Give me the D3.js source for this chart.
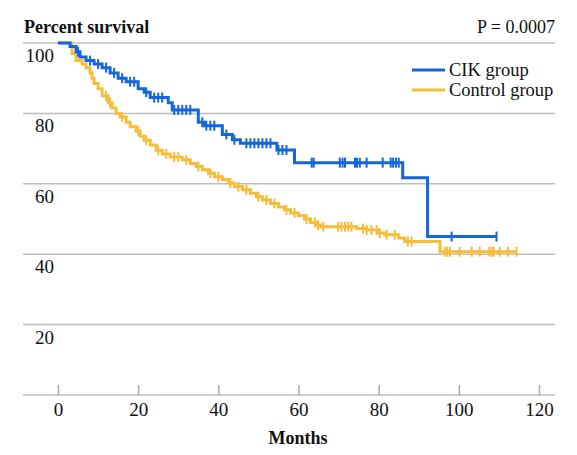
<!DOCTYPE html>
<html>
<head>
<meta charset="utf-8">
<script src="https://cdn.jsdelivr.net/npm/d3@7"></script>
<style>
body{margin:0;background:#fff;}
text{font-family:"Liberation Serif","Times New Roman",serif;fill:#111;}
</style>
</head>
<body>
<svg></svg>
<script>
// step curves: month where the step happens and survival after it
var cikMonths = [0,3,4.5,5.5,7,9,11,13,15,17,20,21.5,23,27.5,28.5,35,36.5,41,43.5,45.5,54.6,59,86,92.2,109.4]
var cikSurv   = [100,99,97.5,96,95,94,93,91.5,90,89,87,86,84.5,83,81,77.5,76.5,74,72.5,71.5,69.6,66,61.7,45,45]

var ctrlMonths = [0,3.5,4.5,6,7,8,8.5,9,10,11,12.5,13.5,14.5,15.5,17,18,19.5,20.5,21.5,23,24.5,26,28,31,33,34.5,36,37.5,39,41,42.5,44,46,48,49.5,51,53,55,56.5,58,60,61.5,63,64.5,65.5,74.5,77,80,81.5,85,86.5,95.3,114.4]
var ctrlSurv   = [100,97,95,94,93,91.5,90,88.5,87,85,83,81.5,80,79,77.5,76.2,75,73.5,72.4,71,69.5,68.5,67.6,66.8,65.8,64.9,64,63,62,61.2,60.2,59.2,58.3,57.3,56.3,55.4,54.4,53.4,52.6,51.7,51,50,49,48.3,47.8,47.3,46.9,46,45.5,44.6,43.6,40.7,40.7]

// censored patients (tick marks)
var cikCensor = [5,8,10,12,14,16,18,19,22,24,25,26,29,30,31,32,33,36,37,38,39,42,44,47,48,49,50,51,52,53,55,56,57,63.3,63.8,70.3,71,71.6,74.1,74.6,75.3,77,81,83,83.6,84.3,85,98.2,109.4]
var ctrlCensor = [12,13,16,20,22,25,27,29,30,32,35,38,40,43,45,47,50,52,54,57,59,62,64.1,64.9,66.2,69.9,70.7,71.6,72.4,73.2,76.1,77,78.2,79.5,80.3,82,84,87.3,88.2,96.5,97.1,97.8,100.2,103.2,105.2,107.6,108.2,108.7,110.2,112.3,114.4]

var xTicks = [0,20,40,60,80,100,120]
var yTicks = [20,40,60,80,100]
var groupNames = ["CIK group","Control group"]
var colors = ["#1565dc","#f7bc3a"]

var screen = {width:577,height:455}

var svg = d3.select("svg")
            .attr("width",screen.width)
            .attr("height",screen.height)

var xScale = d3.scaleLinear()
                .domain([0,120])
                .range([58,539])

var yScale = d3.scaleLinear()
                .domain([0,100])
                .range([395,43])

// grid lines
svg.append("g")
    .selectAll("line")
    .data([0].concat(yTicks))
    .enter()
    .append("line")
    .attr("x1",23)
    .attr("x2",555)
    .attr("y1",function(d){return yScale(d)})
    .attr("y2",function(d){return yScale(d)})
    .attr("stroke","#bdbdbd")
    .attr("stroke-width",1.5)

// y labels sit under their grid line
svg.append("g")
    .selectAll("text")
    .data(yTicks)
    .enter()
    .append("text")
    .attr("x",54)
    .attr("y",function(d){return yScale(d)+19})
    .attr("text-anchor","end")
    .style("font-size","19px")
    .text(function(d){return d})

// x axis, ticks point up
var xAxis = d3.axisTop(xScale)
                .tickValues(xTicks)
                .tickSize(10)
                .tickPadding(-31)

var ax = svg.append("g")
            .attr("transform","translate(0,"+yScale(0)+")")
            .call(xAxis)
ax.select(".domain").remove()
ax.selectAll("line").attr("stroke","#aaa").attr("stroke-width",1.5)
ax.selectAll("text")
    .style("font-family","Liberation Serif")
    .style("font-size","19px")
    .attr("fill","#111")

svg.append("text")
    .attr("x",298)
    .attr("y",444)
    .attr("text-anchor","middle")
    .style("font-size","18px")
    .style("font-weight","bold")
    .text("Months")

svg.append("text")
    .attr("x",24)
    .attr("y",33)
    .style("font-size","18px")
    .style("font-weight","bold")
    .text("Percent survival")

svg.append("text")
    .attr("x",555)
    .attr("y",33)
    .attr("text-anchor","end")
    .style("font-size","18px")
    .text("P = 0.0007")

var lineGenerator = d3.line()
    .x(function(d){return xScale(d[0])})
    .y(function(d){return yScale(d[1])})
    .curve(d3.curveStepAfter)

var valueAt = function(months,surv,t)
    {
        var i = d3.bisectRight(months,t)-1
        return surv[Math.max(i,0)]
    }

var drawCurve = function(months,surv,censor,color)
    {
        var g = svg.append("g")
        g.append("path")
            .attr("d",lineGenerator(d3.zip(months,surv)))
            .attr("fill","none")
            .attr("stroke",color)
            .attr("stroke-width",3)
        g.selectAll("line")
            .data(censor)
            .enter()
            .append("line")
            .attr("x1",function(t){return xScale(t)})
            .attr("x2",function(t){return xScale(t)})
            .attr("y1",function(t){return yScale(valueAt(months,surv,t))-5})
            .attr("y2",function(t){return yScale(valueAt(months,surv,t))+5})
            .attr("stroke",color)
            .attr("stroke-width",2)
    }

// control first so CIK sits on top
drawCurve(ctrlMonths,ctrlSurv,ctrlCensor,colors[1])
drawCurve(cikMonths,cikSurv,cikCensor,colors[0])

// legend
var legend = svg.append("g")
                .selectAll("g")
                .data(groupNames)
                .enter()
                .append("g")
                .attr("transform",function(d,i){return "translate(412,"+(70+i*20)+")"})
legend.append("line")
    .attr("x1",0)
    .attr("x2",33)
    .attr("stroke",function(d,i){return colors[i]})
    .attr("stroke-width",3)
legend.append("text")
    .attr("x",37)
    .attr("y",6)
    .style("font-size","18.5px")
    .text(function(d){return d})
</script>
</body>
</html>
